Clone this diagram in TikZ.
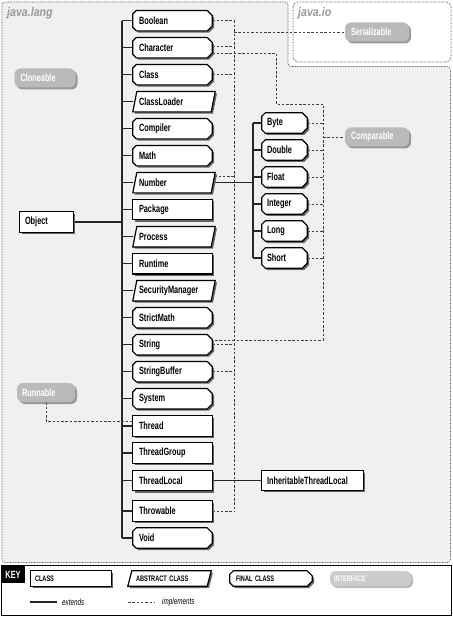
\documentclass[tikz,border=0pt]{standalone}
\usepackage{fontspec}
\newfontfamily\cf{Liberation Sans}[FakeStretch=0.7]
\newfontfamily\lf{Liberation Sans}[FakeStretch=0.85]
\usetikzlibrary{calc,shadows}
\pgfdeclarelayer{bg}
\pgfdeclarelayer{con}
\pgfdeclarelayer{shp}
\pgfsetlayers{bg,con,shp,main}
\newcommand\boxfont{\cf\bfseries\fontsize{10.5pt}{11pt}\selectfont}
\newcommand\keyfont{\cf\bfseries\fontsize{8pt}{9pt}\selectfont}
\newcommand\rectp[3]{($(#1.north west)+(#2,#3)$) rectangle ($(#1.south east)+(#2,#3)$)}
\newcommand\octp[3]{($(#1.north west)+(#2+3.5,#3)$) -- ($(#1.north east)+(#2-5,#3)$) -- ($(#1.north east)+(#2,#3+5)$) -- ($(#1.south east)+(#2,#3-5)$) -- ($(#1.south east)+(#2-5,#3)$) -- ($(#1.south west)+(#2+3.5,#3)$) -- ($(#1.south west)+(#2,#3-3.5)$) -- ($(#1.north west)+(#2,#3+3.5)$) -- cycle}
\newcommand\abp[3]{($(#1.south west)+(#2,#3)$) -- ($(#1.north west)+(#2+4,#3)$) -- ($(#1.north east)+(#2+3,#3)$) -- ($(#1.south east)+(#2-1,#3)$) -- cycle}
\newcommand\mkclass[1]{\begin{pgfonlayer}{shp}\fill[shad] \rectp{#1}{1.8}{1.8};\filldraw[outl] \rectp{#1}{0}{0};\end{pgfonlayer}}
\newcommand\mkfinal[1]{\begin{pgfonlayer}{shp}\fill[shad] \octp{#1}{1.8}{1.8};\filldraw[outl] \octp{#1}{0}{0};\end{pgfonlayer}}
\newcommand\mkabstract[1]{\begin{pgfonlayer}{shp}\fill[shad] \abp{#1}{1.8}{1.8};\filldraw[outl] \abp{#1}{0}{0};\end{pgfonlayer}}
\tikzset{
 lbl/.style={inner xsep=6pt, inner ysep=0pt, minimum height=20pt, text width=67pt, align=left, font=\boxfont},
 sub/.style={lbl, inner xsep=5pt, text width=35pt},
 iface/.style={fill=black!27, text=white, rounded corners=6pt, inner xsep=6pt, inner ysep=0pt, minimum height=19pt, align=left, font=\boxfont, drop shadow={shadow xshift=2pt, shadow yshift=-2pt, fill=black!55, opacity=0.7}},
 ext/.style={line width=1.1pt, draw=black!85},
 impl/.style={line width=0.6pt, draw=black!75, dash pattern=on 2.5pt off 1.8pt},
 outl/.style={line width=1.2pt, draw=black, fill=white},
 shad/.style={fill=black!60},
 region/.style={draw=black!70, line width=0.7pt, dash pattern=on 0.7pt off 0.9pt, rounded corners=3pt},
 klbl/.style={inner ysep=0pt, minimum height=15pt, align=left, font=\keyfont},
 pkg/.style={font=\lf\bfseries\itshape\fontsize{12.5pt}{13pt}\selectfont, text=black!40, inner sep=0pt, anchor=west},
 note/.style={font=\cf\itshape\fontsize{9pt}{10pt}\selectfont, inner sep=0pt, anchor=west},
}
\begin{document}
\begin{tikzpicture}[x=1pt,y=-1pt]
\useasboundingbox (0,0) rectangle (452,617);
\begin{pgfonlayer}{bg}
\fill[white] (0,0) rectangle (452,617);
\filldraw[region, fill=black!6] (2,2) -- (288,2) -- (288,66.5) -- (450.5,66.5) -- (450.5,562.5) -- (2,562.5) -- cycle;
\filldraw[region, fill=white, rounded corners=5pt] (293,2) rectangle (451,62);
\filldraw[draw=black, line width=0.8pt, fill=white] (1,565.5) rectangle (451,615.5);
\end{pgfonlayer}
\node[pkg] (jlang) at (7,13) {java.lang};
\node[pkg] (jio) at (298,13) {java.io};
% classes in java.lang
\foreach \nm/\yy/\tx/\kd in {
 boolean/20.7/Boolean/final, character/47.7/Character/final, class/74.7/Class/final,
 classloader/101.7/ClassLoader/abstract, compiler/128.7/Compiler/final, math/155.7/Math/final,
 number/182.7/Number/abstract, package/209.7/Package/class, process/236.7/Process/abstract,
 runtime/263.7/Runtime/class, securitymanager/290.7/SecurityManager/abstract,
 strictmath/317.7/StrictMath/final, string/344.7/String/final, stringbuffer/371.7/StringBuffer/final,
 system/398.7/System/final, thread/426/Thread/class, threadgroup/453/ThreadGroup/class,
 threadlocal/480.5/ThreadLocal/class, throwable/511/Throwable/class, void/538/Void/final}
{\node[lbl] (\nm) at (172.5,\yy) {\tx}; \csname mk\kd\endcsname{\nm}}
\foreach \nm/\yy/\tx in {byte/123/Byte, double/150/Double, float/177/Float, integer/204/Integer, long/231/Long, short/258/Short}
{\node[sub] (\nm) at (284.5,\yy) {\tx}; \mkfinal{\nm}}
\node[lbl, inner xsep=5pt, text width=43pt] (object) at (46.5,222) {Object}; \mkclass{object}
\node[lbl, inner xsep=5pt, text width=91pt, minimum height=19pt] (inh) at (312.5,480.5) {InheritableThreadLocal}; \mkclass{inh}
% interfaces
\node[iface, text width=49pt] (cloneable) at (45,78) {Cloneable};
\node[iface, inner xsep=5pt, text width=48pt] (runnable) at (46,392.5) {Runnable};
\node[iface, text width=52pt] (serializable) at (377,32) {Serializable};
\node[iface, text width=52pt] (comparable) at (377,137) {Comparable};
% connectors
\begin{pgfonlayer}{con}
\coordinate (tk) at (122,0);
\coordinate (nt) at (253,0);
\coordinate (sv) at (234,0);
\coordinate (cv) at (323,0);
\coordinate (cj) at (276,104);
\draw[ext] (object.east) -- (tk |- object.east);
\draw[ext] (tk |- boolean.west) -- (tk |- void.west);
\foreach \nm in {boolean,character,class,classloader,compiler,math,number,package,process,runtime,securitymanager,strictmath,string,stringbuffer,system,thread,threadgroup,threadlocal,throwable,void}
 {\draw[ext] (tk |- \nm.west) -- (\nm.west);}
\draw[ext] (number.east) -- (nt |- number.east);
\draw[ext] (nt |- byte.west) -- (nt |- short.west);
\foreach \nm in {byte,double,float,integer,long,short}
 {\draw[ext] (nt |- \nm.west) -- (\nm.west);
  \draw[impl] (\nm.east) -- (cv |- \nm.east);}
\draw[ext] (threadlocal.east) -- (inh.west);
% Serializable
\draw[impl] (sv |- boolean.east) -- (sv |- throwable.east);
\draw[impl] (sv |- serializable.west) -- (serializable.west);
\coordinate (chU) at ([yshift=1pt]character.east);
\coordinate (chL) at ([yshift=-5.5pt]character.east);
\coordinate (nuU) at ([xshift=2pt,yshift=6pt]number.east);
\coordinate (stU) at ([yshift=4.7pt]string.east);
\foreach \nm in {boolean,class,string,stringbuffer,throwable}
 {\draw[impl] (\nm.east) -- (sv |- \nm.east);}
\draw[impl] (chU) -- (sv |- chU);
\draw[impl] (nuU) -- (sv |- nuU);
% Comparable
\draw[impl] (chL) -| (cj) -| (cv |- stU) -- (stU);
\draw[impl] (cv |- comparable.west) -- (comparable.west);
% Runnable
\draw[impl] (runnable.south) |- ([yshift=4.5pt]thread.west);
\end{pgfonlayer}
% key
\node[fill=black, text=white, font=\cf\bfseries\fontsize{10.5pt}{11pt}\selectfont, minimum width=24pt, minimum height=17pt, inner sep=0pt] (keylbl) at (13,574.5) {KEY};
\node[klbl, inner xsep=4pt, text width=72pt] (kclass) at (71,578.5) {CLASS}; \mkclass{kclass}
\node[klbl, inner xsep=8pt, text width=64pt] (kabs) at (168,578.5) {ABSTRACT CLASS}; \mkabstract{kabs}
\node[klbl, inner xsep=6pt, text width=70pt] (kfinal) at (271,578.5) {FINAL CLASS}; \mkfinal{kfinal}
\node[klbl, fill=black!20, text=white, rounded corners=5pt, inner xsep=4pt, text width=73pt, drop shadow={shadow xshift=2pt, shadow yshift=-2pt, fill=black!45, opacity=0.6}] (kiface) at (370.5,578.5) {INTERFACE};
\coordinate (e1) at (30,602);
\coordinate (e2) at (57,602);
\coordinate (i1) at (128,602);
\coordinate (i2) at (155,602);
\draw[ext] (e1) -- (e2);
\draw[impl] (i1) -- (i2);
\node[note] (kext) at (62,602) {extends};
\node[note] (kimpl) at (162,602) {implements};
\end{tikzpicture}
\end{document}
